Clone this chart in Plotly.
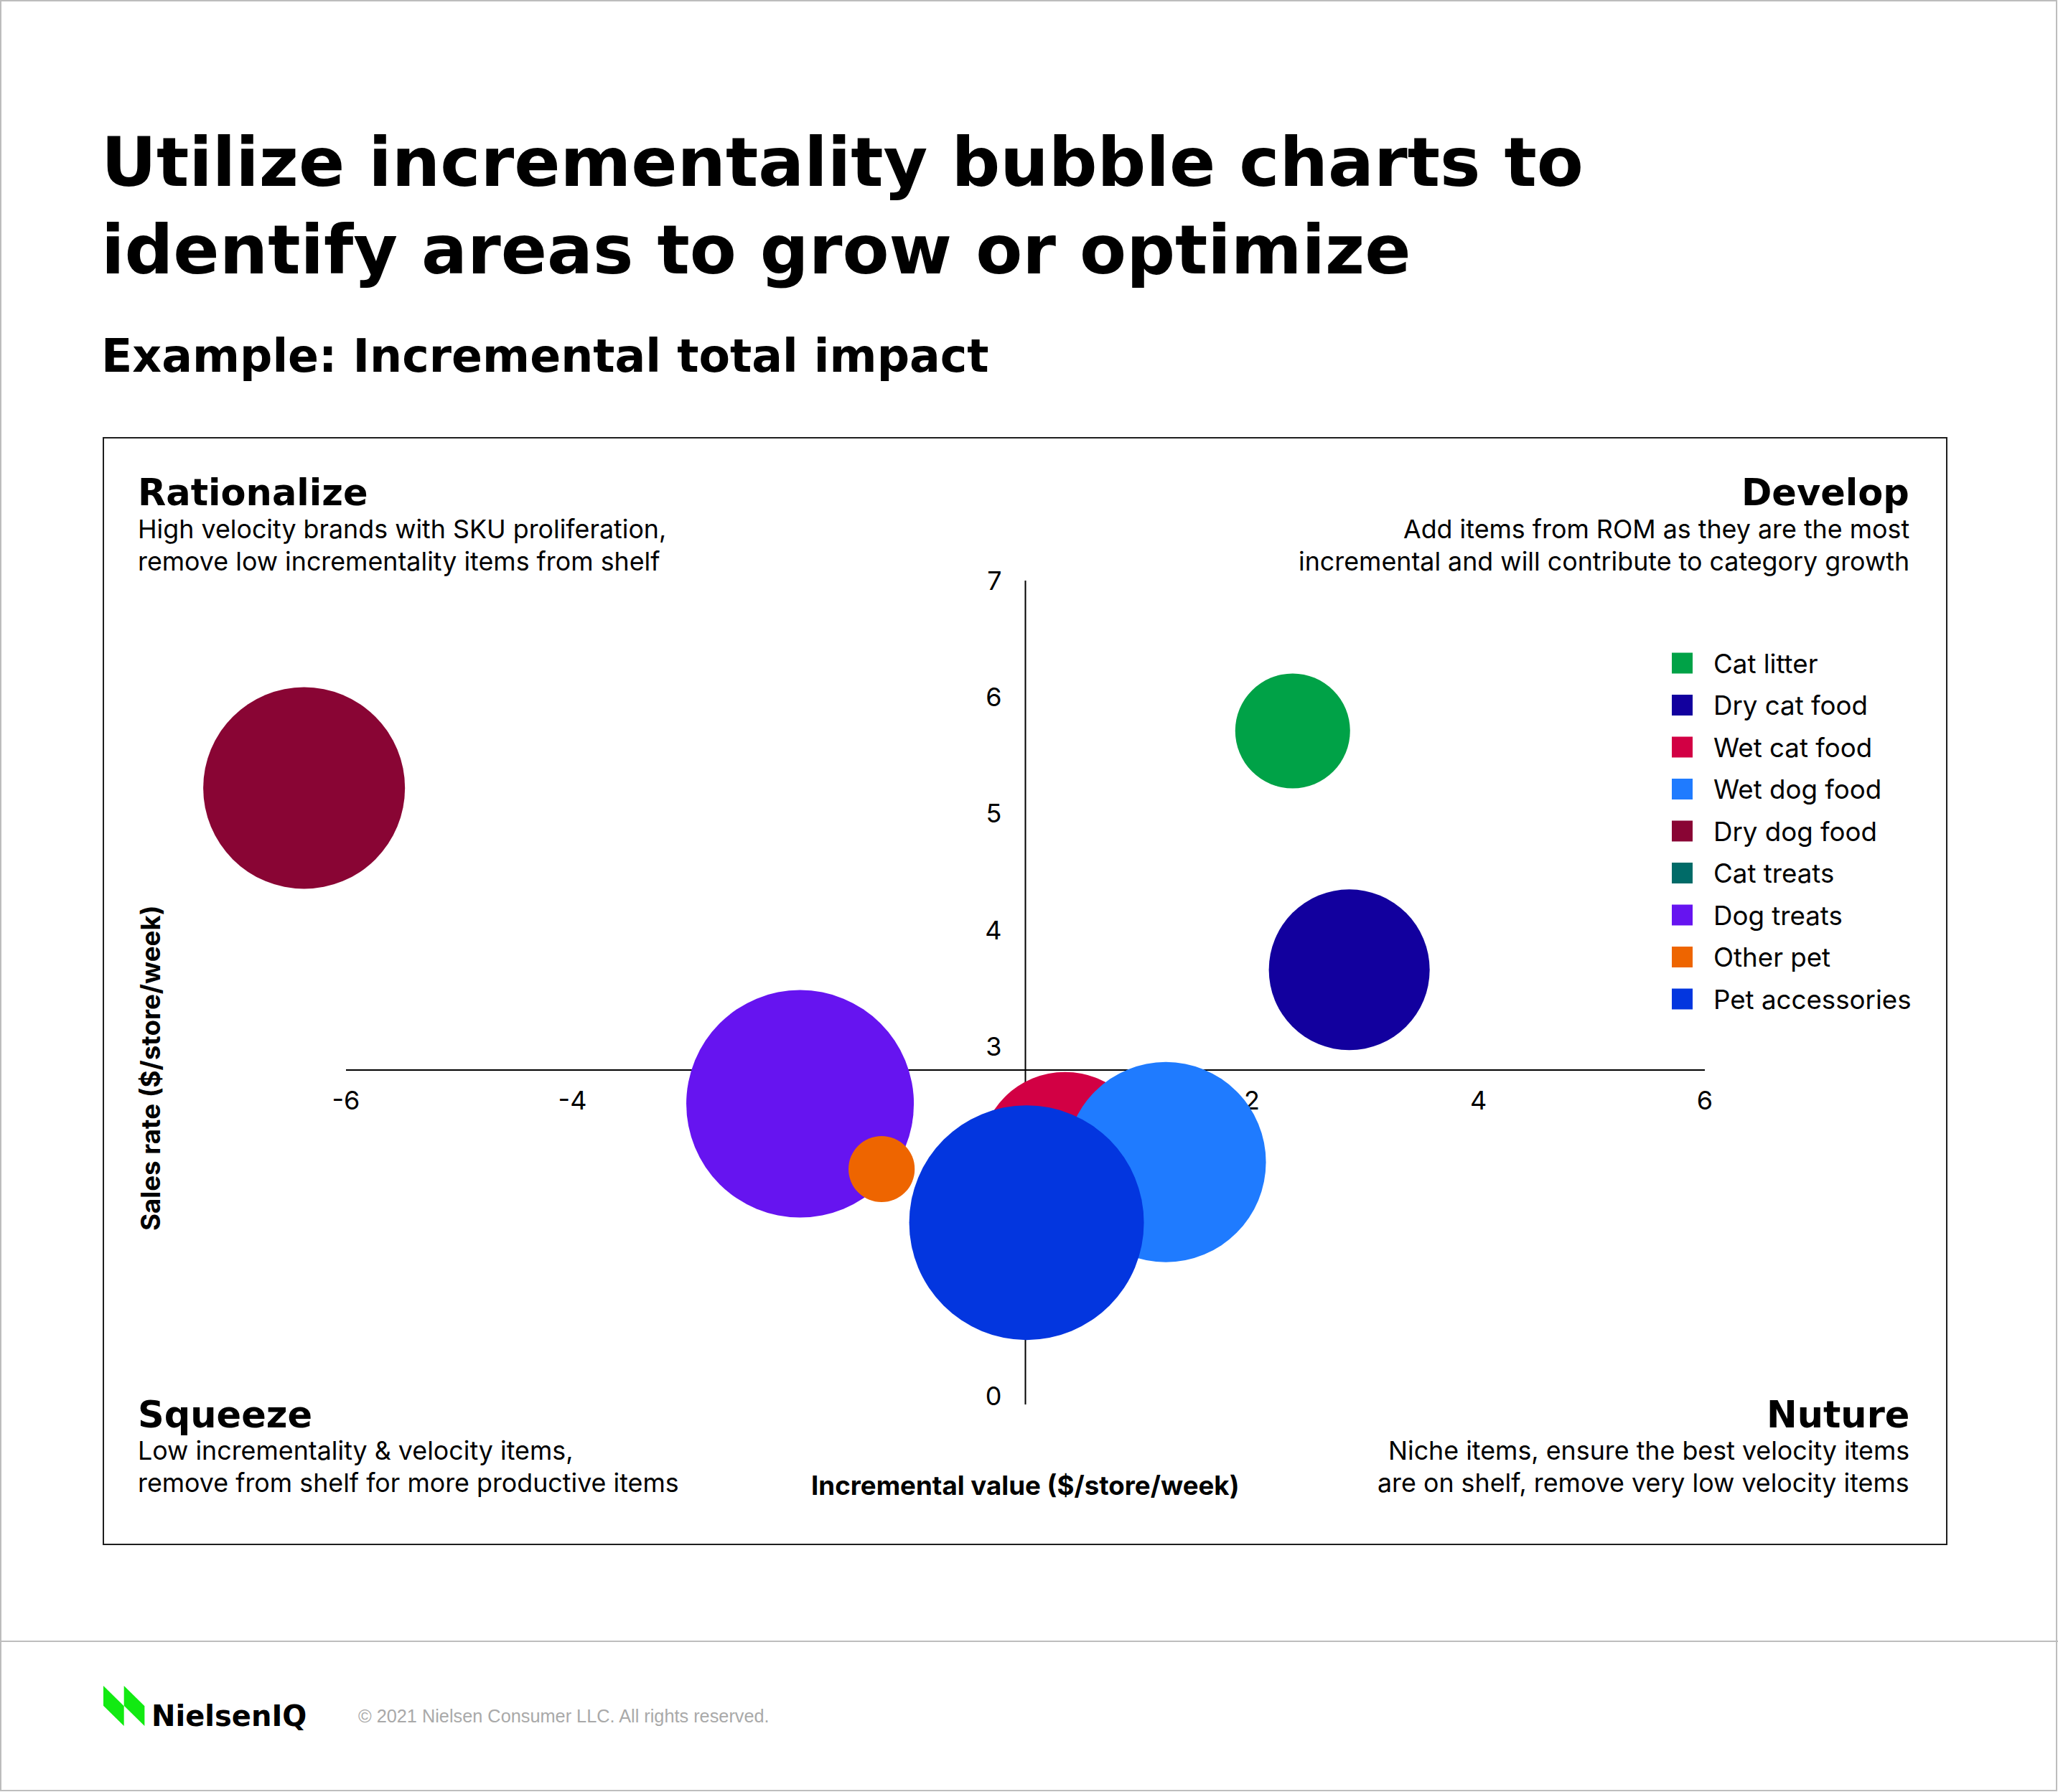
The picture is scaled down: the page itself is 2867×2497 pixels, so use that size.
import plotly.graph_objects as go

# ---------------- data ----------------
categories = ["Cat litter", "Dry cat food", "Wet cat food", "Wet dog food", "Dry dog food",
              "Cat treats", "Dog treats", "Other pet", "Pet accessories"]
incremental_value = [2.36, 2.86, 0.35, 1.24, -6.37, 0.20, -1.99, -1.27, 0.01]   # $/store/week
sales_rate = [5.71, 3.66, 2.05, 2.01, 5.22, 1.00, 2.51, 1.95, 1.49]             # $/store/week
bubble_value = [25.6, 50.2, 56.6, 77.8, 79.0, 12.0, 100.5, 8.5, 106.9]          # bubble size measure
colors = ["#00A247", "#12009E", "#D20044", "#1F7BFF", "#890534",
          "#006B68", "#6614F0", "#EE6500", "#0336DF"]

x_tick_values = [-6, -4, -2, 0, 2, 4, 6]
x_tick_labels = ["-6", "-4", "-2", "0", "2", "4", "6"]
y_tick_values = [0, 1, 2, 3, 4, 5, 6, 7]
y_tick_labels = ["0", "1", "2", "3", "4", "5", "6", "7"]
x_axis_crosses_y = 2.8
x_axis_extent = [-6, 6]
y_axis_extent = [-0.07, 7]

# ---------------- layout helpers ----------------
W, H = 2867, 2497


def px(x):
    return x / W


def py(y):
    return 1 - y / H


# pixel frame of the axes: x=-6 -> 482px, x=6 -> 2375px ; y=7 -> 809px, y=-0.07 -> 1957px
X_UNIT = (2375 - 482) / 12.0
X_RANGE = [-6.45, 6.0]
X_DOM = [px(482 + (X_RANGE[0] + 6) * X_UNIT), px(2375)]
Y_RANGE = [-0.07, 7]
Y_DOM = [py(1957), py(809)]

x_axis_pos = Y_DOM[0] + (x_axis_crosses_y - Y_RANGE[0]) / (Y_RANGE[1] - Y_RANGE[0]) * (Y_DOM[1] - Y_DOM[0])
y_axis_pos = X_DOM[0] + (0 - X_RANGE[0]) / (X_RANGE[1] - X_RANGE[0]) * (X_DOM[1] - X_DOM[0])

BODY = "Inter"
HEAD = "DejaVu Sans"

fig = go.Figure()

for i, cat in enumerate(categories):
    fig.add_trace(go.Scatter(
        x=[incremental_value[i]], y=[sales_rate[i]], name=cat, mode="markers",
        marker=dict(size=[bubble_value[i]], sizemode="area", sizeref=0.002,
                    color=colors[i], opacity=1, line=dict(width=0)),
        cliponaxis=False, showlegend=False, hoverinfo="name",
    ))

# custom legend (large square swatches)
fig.add_trace(go.Scatter(
    x=[0] * len(categories), y=list(range(len(categories))), xaxis="x2", yaxis="y2",
    mode="markers", marker=dict(symbol="square", size=29, color=colors, line=dict(width=0)),
    showlegend=False, hoverinfo="skip", cliponaxis=False,
))

annotations = []


def add_text(text, x, y, size, family=BODY, weight="normal", xanchor="left", color="black", **kw):
    annotations.append(dict(text=text, x=px(x), y=py(y), xref="paper", yref="paper",
                            xanchor=xanchor, yanchor="middle", showarrow=False,
                            font=dict(family=family, size=size, color=color, weight=weight), **kw))


DESC = 35.8
HEADSZ = 51
# title & subtitle
add_text("Utilize incrementality bubble charts to", 139, 226, 94.8, HEAD, "bold")
add_text("identify areas to grow or optimize", 139, 348, 94.8, HEAD, "bold")
add_text("Example: Incremental total impact", 139, 496, 63.4, HEAD, "bold")

# quadrant notes
add_text("Rationalize", 190, 686, HEADSZ, HEAD, "bold")
add_text("High velocity brands with SKU proliferation,", 190, 737, DESC)
add_text("remove low incrementality items from shelf", 190, 782, DESC)

add_text("Develop", 2662, 686, HEADSZ, HEAD, "bold", xanchor="right")
add_text("Add items from ROM as they are the most", 2662, 737, DESC, xanchor="right")
add_text("incremental and will contribute to category growth", 2662, 782, DESC, xanchor="right")

add_text("Squeeze", 190, 1971, HEADSZ, HEAD, "bold")
add_text("Low incrementality &amp; velocity items,", 190, 2021, DESC)
add_text("remove from shelf for more productive items", 190, 2066, DESC)

add_text("Nuture", 2662, 1971, HEADSZ, HEAD, "bold", xanchor="right")
add_text("Niche items, ensure the best velocity items", 2662, 2021, DESC, xanchor="right")
add_text("are on shelf, remove very low velocity items", 2662, 2066, DESC, xanchor="right")

# axis titles
add_text("Incremental value ($/store/week)", 1428, 2069, 36.7, BODY, 700, xanchor="center")
add_text("Sales rate ($/store/week)", 210, 1488, 36.7, BODY, 700, xanchor="center", textangle=-90)

# footer
add_text("NielsenIQ", 209, 2391, 40, HEAD, "bold")
add_text("\u00a9 2021 Nielsen Consumer LLC. All rights reserved.", 497, 2391, 25.3,
         "Liberation Sans", "normal", color="#A9A9A9")

# legend labels
for i, cat in enumerate(categories):
    annotations.append(dict(text=cat, x=0.92, y=i, xref="x2", yref="y2", xanchor="left",
                            yanchor="middle", showarrow=False,
                            font=dict(family=BODY, size=36.7, color="black")))

shapes = [
    # outer frame
    dict(type="rect", xref="paper", yref="paper", x0=px(1), x1=px(2865), y0=py(2495), y1=py(1),
         line=dict(color="#BDBDBD", width=2), layer="below"),
    # chart box
    dict(type="rect", xref="paper", yref="paper", x0=px(144), x1=px(2712), y0=py(2152), y1=py(610),
         line=dict(color="#1E1E1E", width=2), layer="below"),
    # footer divider
    dict(type="line", xref="paper", yref="paper", x0=0, x1=1, y0=py(2287), y1=py(2287),
         line=dict(color="#BDBDBD", width=2)),
    # quadrant axes (drawn beneath the bubbles)
    dict(type="line", xref="x", yref="y", x0=x_axis_extent[0], x1=x_axis_extent[1],
         y0=x_axis_crosses_y, y1=x_axis_crosses_y, line=dict(color="black", width=2), layer="below"),
    dict(type="line", xref="x", yref="y", x0=0, x1=0, y0=y_axis_extent[0], y1=y_axis_extent[1],
         line=dict(color="black", width=2), layer="below"),
]


def poly(pts):
    return "M " + " L ".join(f"{px(a):.6f},{py(b):.6f}" for a, b in pts) + " Z"


for dx in (0, 28.7):
    shapes.append(dict(type="path", xref="paper", yref="paper",
                       path=poly([(144 + dx, 2349), (172.7 + dx, 2377.3), (172.7 + dx, 2405), (144 + dx, 2376.7)]),
                       fillcolor="#12EA12", line=dict(width=0)))

axis_font = dict(family=BODY, size=36, color="black")

fig.update_layout(
    width=W, height=H, margin=dict(l=0, r=0, t=0, b=0, pad=0, autoexpand=False),
    paper_bgcolor="white", plot_bgcolor="rgba(0,0,0,0)",
    showlegend=False,
    xaxis=dict(domain=X_DOM, range=X_RANGE, anchor="free", position=x_axis_pos, automargin=False,
               showline=False, showgrid=False, zeroline=False,
               tickmode="array", tickvals=x_tick_values, ticktext=x_tick_labels, ticks="",
               tickfont=axis_font, layer="below traces", ticklabelstandoff=18, fixedrange=True),
    yaxis=dict(domain=Y_DOM, range=Y_RANGE, anchor="free", position=y_axis_pos, automargin=False,
               showline=False, showgrid=False, zeroline=False,
               tickmode="array", tickvals=y_tick_values, ticktext=y_tick_labels, ticks="",
               tickfont=axis_font, layer="below traces", ticklabelstandoff=33, fixedrange=True),
    xaxis2=dict(domain=[px(2329), px(2389)], range=[-0.319, 1], visible=False, anchor="y2",
                fixedrange=True, automargin=False),
    yaxis2=dict(domain=[py(894.75 + 58.5 * len(categories)), py(894.75)],
                range=[len(categories) - 0.5, -0.5], visible=False, anchor="x2", fixedrange=True,
                automargin=False),
    annotations=annotations,
    shapes=shapes,
    font=dict(family=BODY, color="black"),
)

fig.write_html("out.html", config={"displayModeBar": False},
               post_script="document.body.style.margin='0';document.body.style.overflow='hidden';")
